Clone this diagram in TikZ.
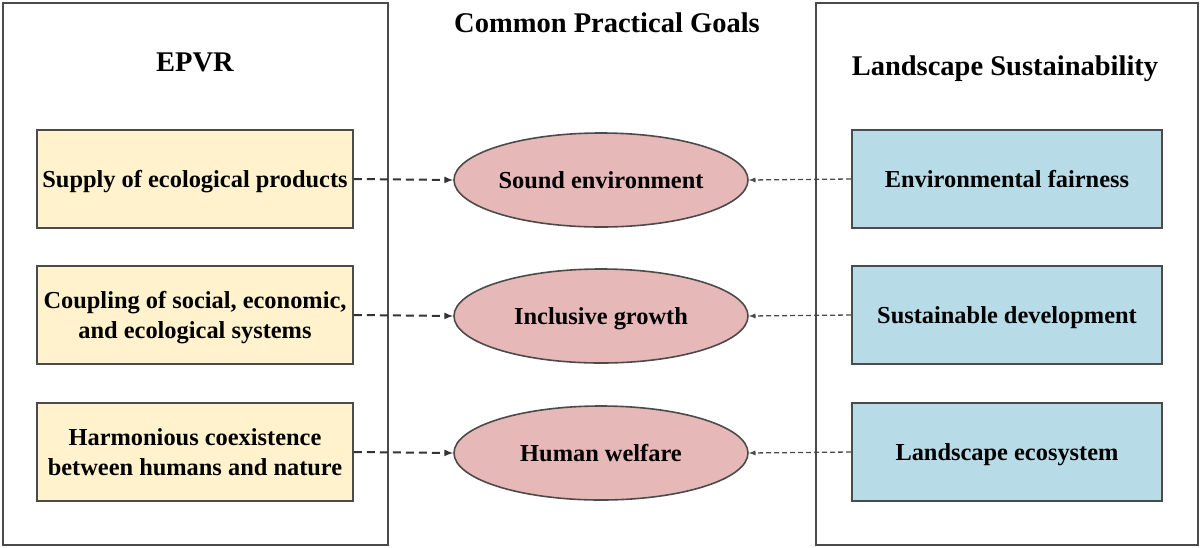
\documentclass[tikz,border=0pt]{standalone}
\usepackage{fontspec}
\setmainfont{Liberation Serif}
\usetikzlibrary{shapes.geometric, positioning, arrows}
\usepackage{xcolor}
\definecolor{epvrcolor}{RGB}{255,242,204}
\definecolor{landcolor}{RGB}{183,220,232}
\definecolor{goalcolor}{RGB}{230,184,183}
\definecolor{edgecolor}{RGB}{75,75,75}

\begin{document}
\begin{tikzpicture}[x=1pt, y=-1pt]
  \tikzset{
    panel/.style={
      draw=edgecolor,
      line width=1.6pt,
      minimum width=385,
      minimum height=542,
      inner sep=0pt,
      anchor=north west
    },
    epvrbox/.style={
      draw=edgecolor,
      line width=1.6pt,
      minimum width=316,
      minimum height=98,
      inner sep=0pt,
      text depth=0pt,
      align=center,
      fill=epvrcolor,
      font=\fontsize{24.4}{30}\selectfont\bfseries
    },
    landbox/.style={
      draw=edgecolor,
      line width=1.6pt,
      minimum width=310,
      minimum height=98,
      inner sep=0pt,
      text depth=0pt,
      align=center,
      fill=landcolor,
      font=\fontsize{24.4}{30}\selectfont\bfseries
    },
    goal/.style={
      ellipse,
      draw=edgecolor,
      line width=1.6pt,
      minimum width=294,
      minimum height=94,
      inner sep=0pt,
      text depth=0pt,
      fill=goalcolor,
      font=\fontsize{24.4}{30}\selectfont\bfseries
    },
    heading/.style={
      anchor=base,
      inner sep=0pt,
      font=\fontsize{28.5}{34}\selectfont\bfseries
    },
    fromepvr/.style={
      -latex,
      line width=2pt,
      dash pattern=on 8pt off 5pt,
      draw=black!80
    },
    fromland/.style={
      -latex,
      line width=1.3pt,
      dash pattern=on 5pt off 3pt,
      draw=edgecolor
    }
  }

  \useasboundingbox (0,0) rectangle (1200,547);

  % Outer panels
  \node[panel] (leftpanel) at (2,2) {};
  \node[panel, minimum width=382] (rightpanel) at (815,2) {};

  % Headings
  \node[heading] (epvrtitle) at (195,71) {EPVR};
  \node[heading] (goaltitle) at (607,32) {Common Practical Goals};
  \node[heading] (landtitle) at (1005,75) {Landscape Sustainability};

  % EPVR boxes
  \node[epvrbox] at (195,179) (epvr0) {Supply of ecological products};
  \node[epvrbox] at (195,315) (epvr1) {Coupling of social, economic,\\and ecological systems};
  \node[epvrbox] at (195,452) (epvr2) {Harmonious coexistence\\between humans and nature};

  % Common goals
  \node[goal] at (601,180) (goal0) {Sound environment};
  \node[goal] at (601,316) (goal1) {Inclusive growth};
  \node[goal] at (601,453) (goal2) {Human welfare};

  % Landscape sustainability boxes
  \node[landbox] at (1007,179) (land0) {Environmental fairness};
  \node[landbox] at (1007,315) (land1) {Sustainable development};
  \node[landbox] at (1007,452) (land2) {Landscape ecosystem};

  % Connectors
  \foreach \i in {0,1,2} {
    \draw[fromepvr] (epvr\i.east) -- (goal\i.west);
    \draw[fromland] (land\i.west) -- (goal\i.east);
  }

\end{tikzpicture}
\end{document}
